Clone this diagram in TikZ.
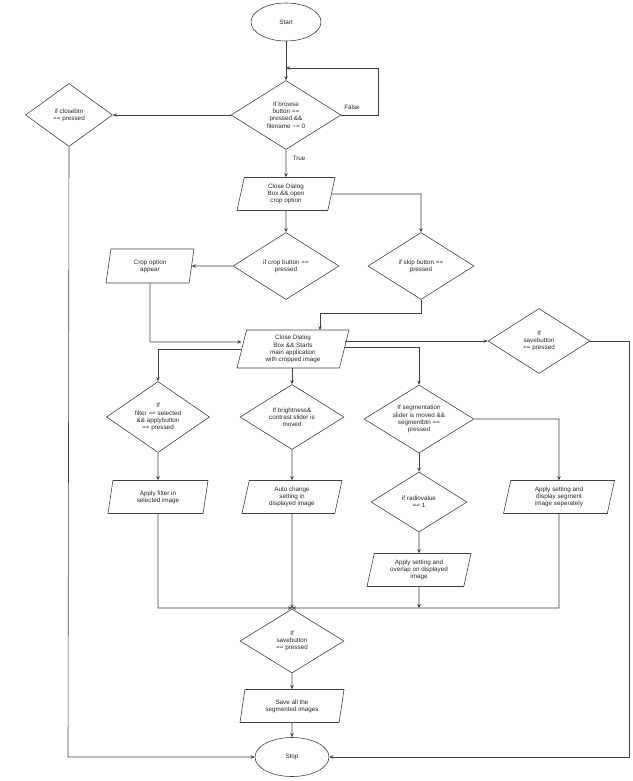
\documentclass[tikz,border=0pt]{standalone}
\usepackage{fontspec}
\setmainfont{Liberation Sans}
\usetikzlibrary{shapes.geometric,arrows.meta}
\begin{document}
\begin{tikzpicture}[x=1pt,y=-1pt,
  every node/.style={font=\fontsize{6.3}{7.2}\selectfont, align=center, text=black!85},
  line/.style={draw=black!75, line width=0.6pt},
  arr/.style={line, -{Stealth[length=4pt,width=3.5pt]}},
  term/.style={ellipse, draw=black!75, line width=0.6pt, minimum width=#1, minimum height=38pt, inner sep=0pt},
  dec/.style={diamond, draw=black!75, line width=0.6pt, inner sep=0pt, aspect=1.5},
  io/.style={trapezium, trapezium left angle=72, trapezium right angle=108, draw=black!75, line width=0.6pt, minimum height=33pt, trapezium stretches body, inner sep=1pt}]
\useasboundingbox (0,0) rectangle (632,781);
\node[term=70pt] (start) at (286,22) {Start};
\node[dec, minimum width=110pt, minimum height=69pt] (browse) at (286,115) {If browse\\button ==\\pressed \&\&\\filename \textasciitilde= 0};
\node[dec, minimum width=87pt, minimum height=63pt] (close) at (69,115) {if closebtn\\== pressed};
\node[io, minimum width=98pt] (cd1) at (286,194) {Close Dialog\\Box \&\& open\\crop option};
\node[dec, minimum width=106pt, minimum height=67pt] (crop) at (286,266) {if crop button ==\\pressed};
\node[dec, minimum width=106pt, minimum height=67pt] (skip) at (421,266) {if skip button ==\\pressed};
\node[io, minimum width=88pt, minimum height=34pt] (cropapp) at (150,266) {Crop option\\appear};
\node[io, minimum width=112pt, minimum height=38pt] (cd2) at (293,349) {Close Dialog\\Box \&\& Starts\\main application\\with cropped image};
\node[dec, minimum width=102pt, minimum height=65pt] (save1) at (539,341) {If\\savebutton\\== pressed};
\node[dec, minimum width=103pt, minimum height=71pt] (filter) at (158,417) {If\\filter == selected\\\&\& applybutton\\== pressed};
\node[dec, minimum width=104pt, minimum height=65pt] (bright) at (292,417) {If brightness\&\\contrast slider is\\moved};
\node[dec, minimum width=110pt, minimum height=68pt] (seg) at (419,419) {If segmentation\\slider is moved \&\&\\segmentbtn ==\\pressed};
\node[io, minimum width=100pt] (applyf) at (158,497) {Apply filter in\\selected image};
\node[io, minimum width=100pt] (auto) at (292,497) {Auto change\\setting in\\displayed image};
\node[io, minimum width=111pt] (applyd) at (559,497) {Apply setting and\\display segment\\image seperately};
\node[dec, minimum width=96pt, minimum height=60pt] (radio) at (419,502) {if radiovalue\\== 1};
\node[io, minimum width=104pt] (overlap) at (419,570) {Apply setting and\\overlap on displayed\\image};
\node[dec, minimum width=104pt, minimum height=64pt] (save2) at (292,641) {If\\savebutton\\== pressed};
\node[io, minimum width=104pt] (saveall) at (292,706) {Save all the\\segmented images};
\node[term=74pt, minimum height=39pt] (stop) at (292,757) {Stop};
\coordinate (m) at (292,608);

\draw[arr] (start) -- (browse);
\draw[arr] (browse.east) -- (378,115) -- (378,68) -- (286,68);
\node at (352,107) {False};
\draw[arr] (browse.west) -- (close.east);
\draw[arr] (close.south) -- (68,757) -- (stop.west);
\draw[arr] (browse.south) -- node[right, pos=0.3, xshift=3pt] {True} (cd1.north);
\draw[arr] (cd1.south) -- (crop.north);
\draw[arr] (cd1.east) -- (421,194) -- (skip.north);
\draw[arr] (crop.west) -- (cropapp.east);
\draw[arr] (cropapp.south) -- (150,342) -- (cd2.west |- 0,342);
\draw[arr] (skip.south) -- (421,313) -- (320,313) -- (320,330);
\draw[arr] (cd2.east |- 0,341) -- (save1.west);
\draw[arr] (save1.east) -- (629,341) -- (629,757) -- (stop.east);
\draw[arr] (cd2.west |- 0,349) -- (158,349) -- (filter.north);
\draw[arr] (cd2.south -| bright) -- (bright.north);
\draw[arr] (cd2.east |- 0,347) -- (419,347) -- (seg.north);
\draw[arr] (filter.south) -- (applyf.north);
\draw[arr] (bright.south) -- (auto.north);
\draw[arr] (seg.east) -- (559,419) -- (applyd.north);
\draw[arr] (seg.south) -- (radio.north);
\draw[arr] (radio.south) -- (overlap.north);
\draw[arr] (applyf.south) -- (158,608) -- (m);
\draw[arr] (overlap.south) -- (419,608);
\draw[arr] (applyd.south) -- (559,608) -- (m);
\draw[arr] (auto.south) -- (save2.north);
\draw[arr] (save2.south) -- (saveall.north);
\draw[arr] (saveall.south) -- (stop.north);
\end{tikzpicture}
\end{document}
